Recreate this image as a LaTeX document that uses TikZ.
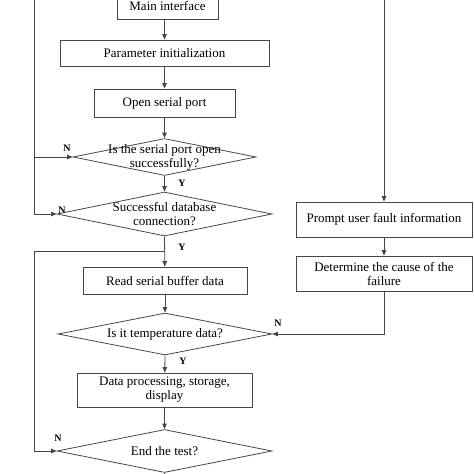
\documentclass[tikz,border=0pt]{standalone}
\usepackage{fontspec}
\setmainfont{Liberation Serif}
\usetikzlibrary{shapes.geometric,arrows.meta}
\tikzstyle{chart} = [x = 1pt, y = -1pt, every node/.style={font=\fontsize{13}{14}\selectfont}]
\definecolor{lineColor}{RGB}{70,70,70}
\tikzstyle{boxStyle} = [draw=lineColor, line width=.8pt, fill=white, align=center, inner sep=0pt]
\tikzstyle{diamondStyle} = [draw=lineColor, line width=.8pt, diamond, inner sep=0pt]
\tikzstyle{decisionText} = [align=center, inner sep=0pt]
\tikzstyle{flow} = [draw=lineColor, line width=.8pt, -{Triangle[length=5.5pt, width=4.5pt]}]
\tikzstyle{plainLine} = [draw=lineColor, line width=.8pt]
\tikzstyle{branchLabel} = [font=\fontsize{10}{12}\selectfont\bfseries, inner sep=0pt]
\newcommand{\processBox}[5]{\node [boxStyle, minimum width=#4pt, minimum height=#5pt] (#1) at #2 {#3};}
\newcommand{\decision}[5]{
  \node [diamondStyle, minimum width=#4pt, minimum height=#5pt] (#1) at #2 {};
  \node [decisionText] (#1Text) at #2 {#3};
}

\begin{document}
\begin{tikzpicture}[chart]
        \useasboundingbox (0,0) rectangle (474,474);
        \clip (0,0) rectangle (474,474);

        % main column
        \processBox{mainUi}{(167.5,6)}{Main interface}{101}{26}
        \processBox{paramInit}{(164.5,53)}{Parameter initialization}{209}{26}
        \processBox{openPort}{(164.5,103)}{Open serial port}{141}{28}
        \decision{portOk}{(164.5,157)}{Is the serial port open\\successfully?}{183}{37}
        \decision{dbOk}{(164.5,214)}{Successful database\\connection?}{215}{44}
        \processBox{readBuf}{(165,280.5)}{Read serial buffer data}{164}{27}
        \decision{isTemp}{(165,334)}{Is it temperature data?}{214}{42}
        \processBox{procData}{(164.5,390)}{Data processing, storage,\\display}{175}{34}
        \decision{endTest}{(164.5,451)}{End the test?}{215}{43}

        % fault column
        \processBox{faultInfo}{(384,219.5)}{Prompt user fault information}{176}{35}
        \processBox{faultCause}{(384,273.5)}{Determine the cause of the\\failure}{176}{35}

        \coordinate (leftTop) at (34,-10);
        \coordinate (leftMid) at (34,157);
        \coordinate (rightTop) at (384,-10);
        \coordinate (loopTop) at (34,251);
        \coordinate (loopJoin) at (164.5,251);
        \coordinate (bottomOut) at (164.5,484);

        \draw [flow] (mainUi.south -| paramInit) -- (paramInit);
        \draw [flow] (paramInit) -- (openPort);
        \draw [flow] (openPort) -- (portOk.north);
        \draw [flow] (portOk.south) -- (dbOk.north);
        \draw [flow] (dbOk.south) -- (readBuf);
        \draw [flow] (readBuf) -- (isTemp.north);
        \draw [flow] (isTemp.south) -- (procData);
        \draw [flow] (procData) -- (endTest.north);
        \draw [plainLine] (endTest.south) -- (bottomOut);

        \draw [flow] (leftTop) |- (dbOk.west);
        \draw [flow] (leftMid) -- (portOk.west);
        \draw [plainLine] (loopJoin) -- (loopTop);
        \draw [flow] (loopTop) |- (endTest.west);

        \draw [flow] (rightTop) -- (faultInfo);
        \draw [flow] (faultInfo) -- (faultCause);
        \draw [flow] (faultCause) |- (isTemp.east);

        \node [branchLabel] (nPort) at (67,148) {N};
        \node [branchLabel] (yPort) at (182,183) {Y};
        \node [branchLabel] (nDb) at (62,210) {N};
        \node [branchLabel] (yDb) at (182,247) {Y};
        \node [branchLabel] (nTemp) at (278,323) {N};
        \node [branchLabel] (yTemp) at (183,361) {Y};
        \node [branchLabel] (nEnd) at (58,438) {N};
      \end{tikzpicture}
\end{document}
